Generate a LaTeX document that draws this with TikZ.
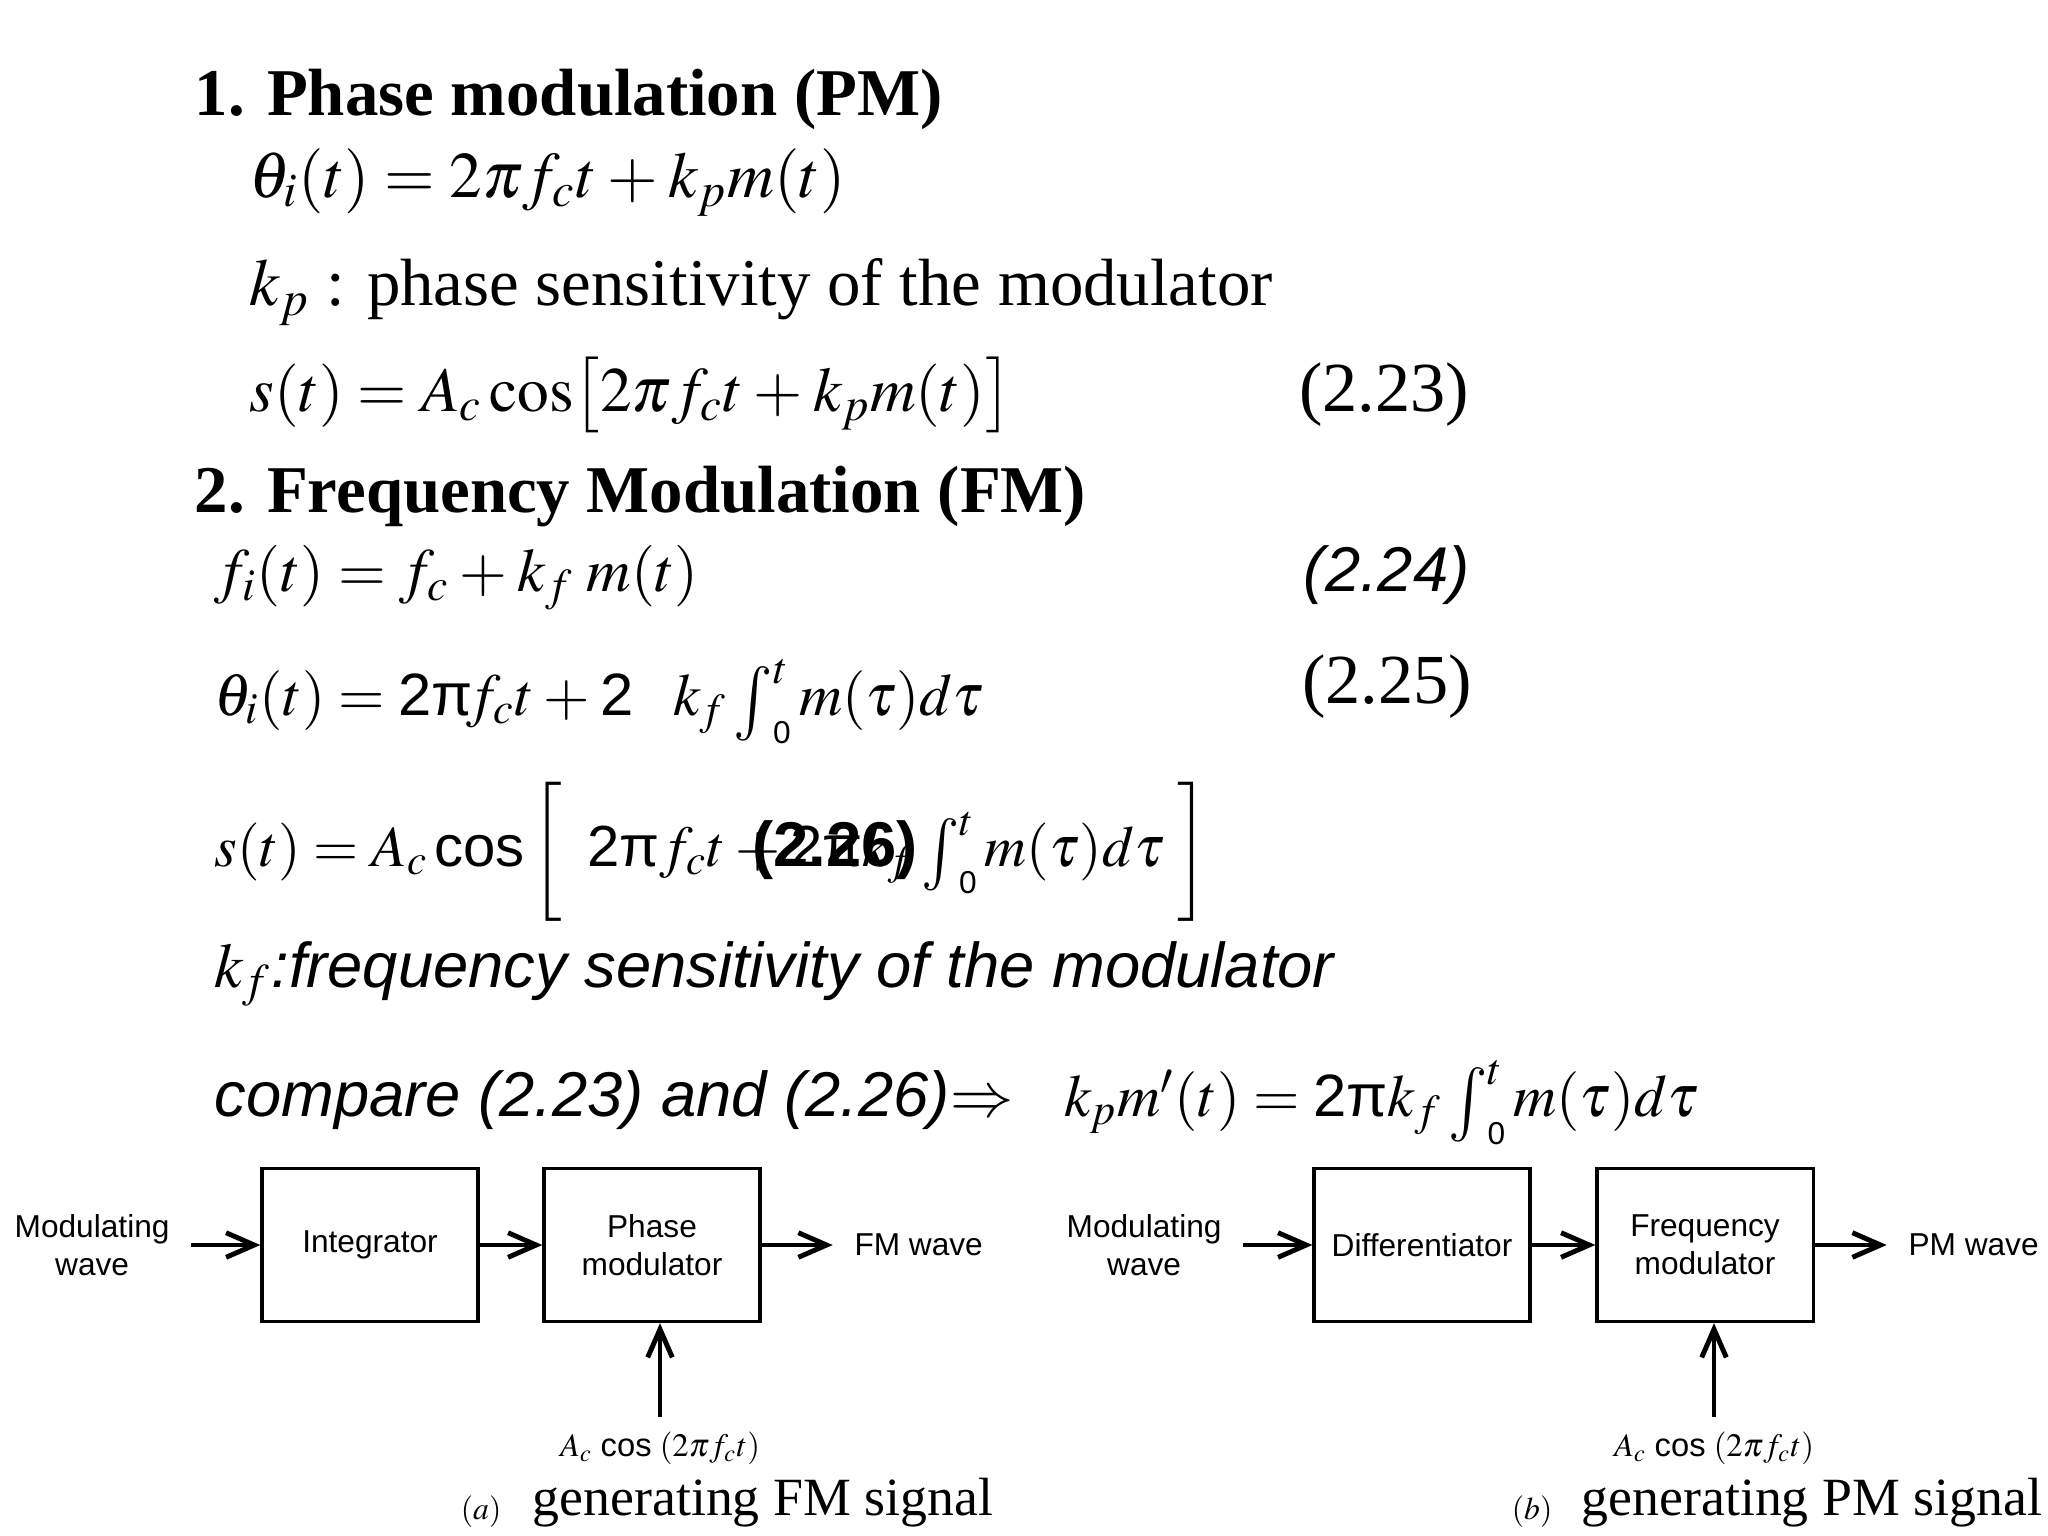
\documentclass[tikz,border=0pt]{standalone}
\usepackage{mathptmx}
\usepackage{fontspec}
\setmainfont{Liberation Serif}
\setsansfont{Liberation Sans}
\usetikzlibrary{positioning,arrows.meta}
\thickmuskip=4mu plus 2mu
\medmuskip=3mu plus 1mu
\newcommand\tallint{\mathop{\raisebox{-0.12em}{\scalebox{1.1}[1.25]{$\int$}}}\nolimits}
\begin{document}
\begin{tikzpicture}[x=0.01cm, y=-0.01cm, inner sep=0pt,
  title node/.style={anchor=base west,font=\bfseries\fontsize{19}{23}\selectfont},
  eq node/.style={anchor=base west,font=\fontsize{18.5}{22}\selectfont},
  eqno node/.style={anchor=base east,font=\fontsize{20}{24}\selectfont},
  sans node/.style={anchor=base west,font=\sffamily\itshape\fontsize{18}{22}\selectfont},
  block/.style={draw,line width=0.9pt,minimum width=2.16cm,minimum height=1.53cm,font=\sffamily\fontsize{9}{10.8}\selectfont,align=center},
  io node/.style={font=\sffamily\fontsize{9}{10.8}\selectfont,align=center,inner sep=6pt},
  carrier/.style={font=\fontsize{9.3}{10.8}\selectfont,inner sep=4pt},
  caption node/.style={anchor=base west,font=\fontsize{15.3}{18}\selectfont},
  sig/.style={line width=1.4pt,-{Straight Barb[length=8pt,width=7pt]}}]
\useasboundingbox (0,0) rectangle (2048,1536);
% phase modulation
\node [title node](t1) at (194,115) {1. Phase modulation (PM)};
\node [eq node](e1) at (249,197) {$\theta_i(t) = 2\pi f_c t + k_p m(t)$};
\node [eq node,font=\fontsize{19}{23}\selectfont](e2) at (249,305) {$k_p$ : phase sensitivity of the modulator};
\node [eq node,font=\fontsize{18}{22}\selectfont](e3) at (249,411) {$s(t) = A_c \cos\bigl[2\pi f_c t + k_p m(t)\bigr]$};
\node [eqno node](n3) at (1470,411) {(2.23)};
% frequency modulation
\node [title node](t2) at (194,512) {2. Frequency Modulation (FM)};
\node [eq node,font=\fontsize{17.5}{21}\selectfont](e4) at (214,591) {$f_i(t) = f_c + k_f\; m(t)$};
\node [sans node,anchor=base east](n4) at (1470,591) {(2.24)};
\node [eq node,font=\fontsize{17}{21}\selectfont](e5) at (214,715) {$\theta_i(t) = \mbox{\sffamily 2π}\!f_c t + \mbox{\sffamily 2}\;\;\; k_f \tallint_{\mbox{\sffamily\small 0}}^t m(\tau)d\tau$};
\node [eqno node](n5) at (1473,703) {(2.25)};
\node [eq node,font=\fontsize{16.5}{20}\selectfont](e6) at (214,866) {$s(t) = A_c\,\mbox{\sffamily cos}\left[\rule[-0.35cm]{0pt}{1.15cm}\;\;\mbox{\sffamily 2π} f_c t + \mbox{\sffamily 2π} k_f \tallint_{\mbox{\sffamily\small 0}}^t m(\tau)d\tau\;\right]$};
\node [anchor=base west,font=\sffamily\bfseries\fontsize{18}{22}\selectfont](n6) at (752,866) {(2.26)};
\node [sans node](e7) at (214,987) {$k_f$:frequency sensitivity of the modulator};
\node [sans node](e8) at (214,1116) {compare (2.23) and (2.26)$\Rightarrow$\hspace{0.8em}{\fontsize{17}{21}\selectfont$k_p m'(t) = \mbox{\upshape 2π}k_f \tallint_{\mbox{\upshape\small 0}}^t m(\tau)d\tau$}};
% (a) FM generation
\node [block](int) at (370,1245) {Integrator};
\node [block](pm) at (652,1245) {Phase\\modulator};
\node [io node,left=0.69cm of int](ina) {Modulating\\wave};
\node [io node,right=0.71cm of pm](outa) {FM wave};
\node [carrier](cara) at (660,1448) {$A_c$ {\sffamily cos} $(2\pi f_c t)$};
\draw [sig] (ina) -- (int);
\draw [sig] (int) -- (pm);
\draw [sig] (pm) -- (outa);
\draw [sig] (cara.north) -- (cara.north |- pm.south);
\node [anchor=base east,font=\fontsize{9}{11}\selectfont](laba) at (502,1519) {$(a)$};
\node [caption node](capa) at (532,1515) {generating FM signal};
% (b) PM generation
\node [block](dif) at (1422,1245) {Differentiator};
\node [block](fm) at (1705,1245) {Frequency\\modulator};
\node [io node,left=0.69cm of dif](inb) {Modulating\\wave};
\node [io node,right=0.72cm of fm](outb) {PM wave};
\node [carrier](carb) at (1714,1448) {$A_c$ {\sffamily cos} $(2\pi f_c t)$};
\draw [sig] (inb) -- (dif);
\draw [sig] (dif) -- (fm);
\draw [sig] (fm) -- (outb);
\draw [sig] (carb.north) -- (carb.north |- fm.south);
\node [anchor=base east,font=\fontsize{9}{11}\selectfont](labb) at (1553,1519) {$(b)$};
\node [caption node](capb) at (1581,1515) {generating PM signal};
\end{tikzpicture}
\end{document}
